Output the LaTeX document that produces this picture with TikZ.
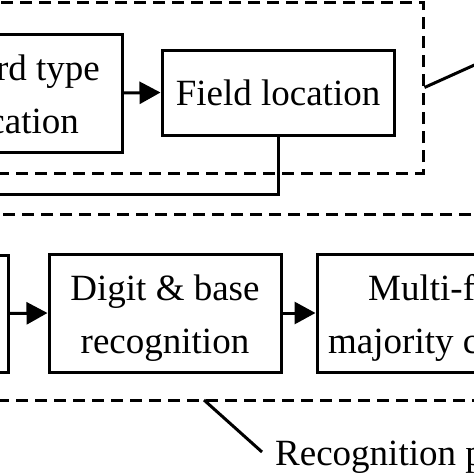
\documentclass[tikz,border=0pt]{standalone}
\usepackage{fontspec}
\setmainfont{Liberation Serif}
\usetikzlibrary{arrows.meta}
\begin{document}
\begin{tikzpicture}[x=1pt,y=-1pt,
  box/.style={draw, line width=3pt, rectangle, inner sep=0pt},
  grp/.style={draw, line width=3pt, dash pattern=on 12pt off 7pt, rectangle, inner sep=0pt},
  lbl/.style={font=\fontsize{37pt}{53pt}\selectfont, inner sep=0pt},
  arr/.style={line width=3pt, -{Triangle[length=21pt,width=22pt]}},
  conn/.style={line width=3pt}]
\useasboundingbox (0,0) rectangle (474,474);
\clip (0,0) rectangle (474,474);
% group boxes
\node[grp, minimum width=483pt, minimum height=171pt] (grpA) at (181.5,87.5) {};
\node[grp, minimum width=600pt, minimum height=186pt] (grpB) at (240,307) {};
% top row
\node[box, minimum width=197pt, minimum height=118pt] (card) at (23.5,93) {};
\node[lbl, anchor=base east] (cardA) at (100,80) {rd type};
\node[lbl, anchor=base east] (cardB) at (79,133) {cation};
\node[box, lbl, minimum width=232pt, minimum height=85pt] (field) at (278,92.5) {Field location};
% bottom row
\node[box, minimum width=216pt, minimum height=117pt] (prev) at (-100,313.5) {};
\node[box, minimum width=232pt, minimum height=118pt] (digit) at (165,313) {};
\node[lbl, anchor=base] (digitA) at (165,300) {Digit \& base};
\node[lbl, anchor=base] (digitB) at (165,353) {recognition};
\node[box, minimum width=232pt, minimum height=118pt] (multi) at (433,313) {};
\node[lbl, anchor=base west] (multiA) at (368,300) {Multi-f};
\node[lbl, anchor=base west] (multiB) at (328,353) {majority c};
% label
\node[lbl, anchor=base west] (recog) at (275,465) {Recognition p};
% connectors
\draw[arr] (card.east) -- (field.west);
\draw[arr] (prev.east) -- (digit.west);
\draw[arr] (digit.east) -- (multi.west);
\coordinate (fend) at (-20,194);
\draw[conn] (field.south) |- (fend);
\coordinate (rend) at (490,58);
\draw[conn] (grpA.east) -- (rend);
\coordinate (cstart) at (204,400);
\coordinate (cend) at (262,452);
\draw[conn] (cstart) -- (cend);
\end{tikzpicture}
\end{document}
